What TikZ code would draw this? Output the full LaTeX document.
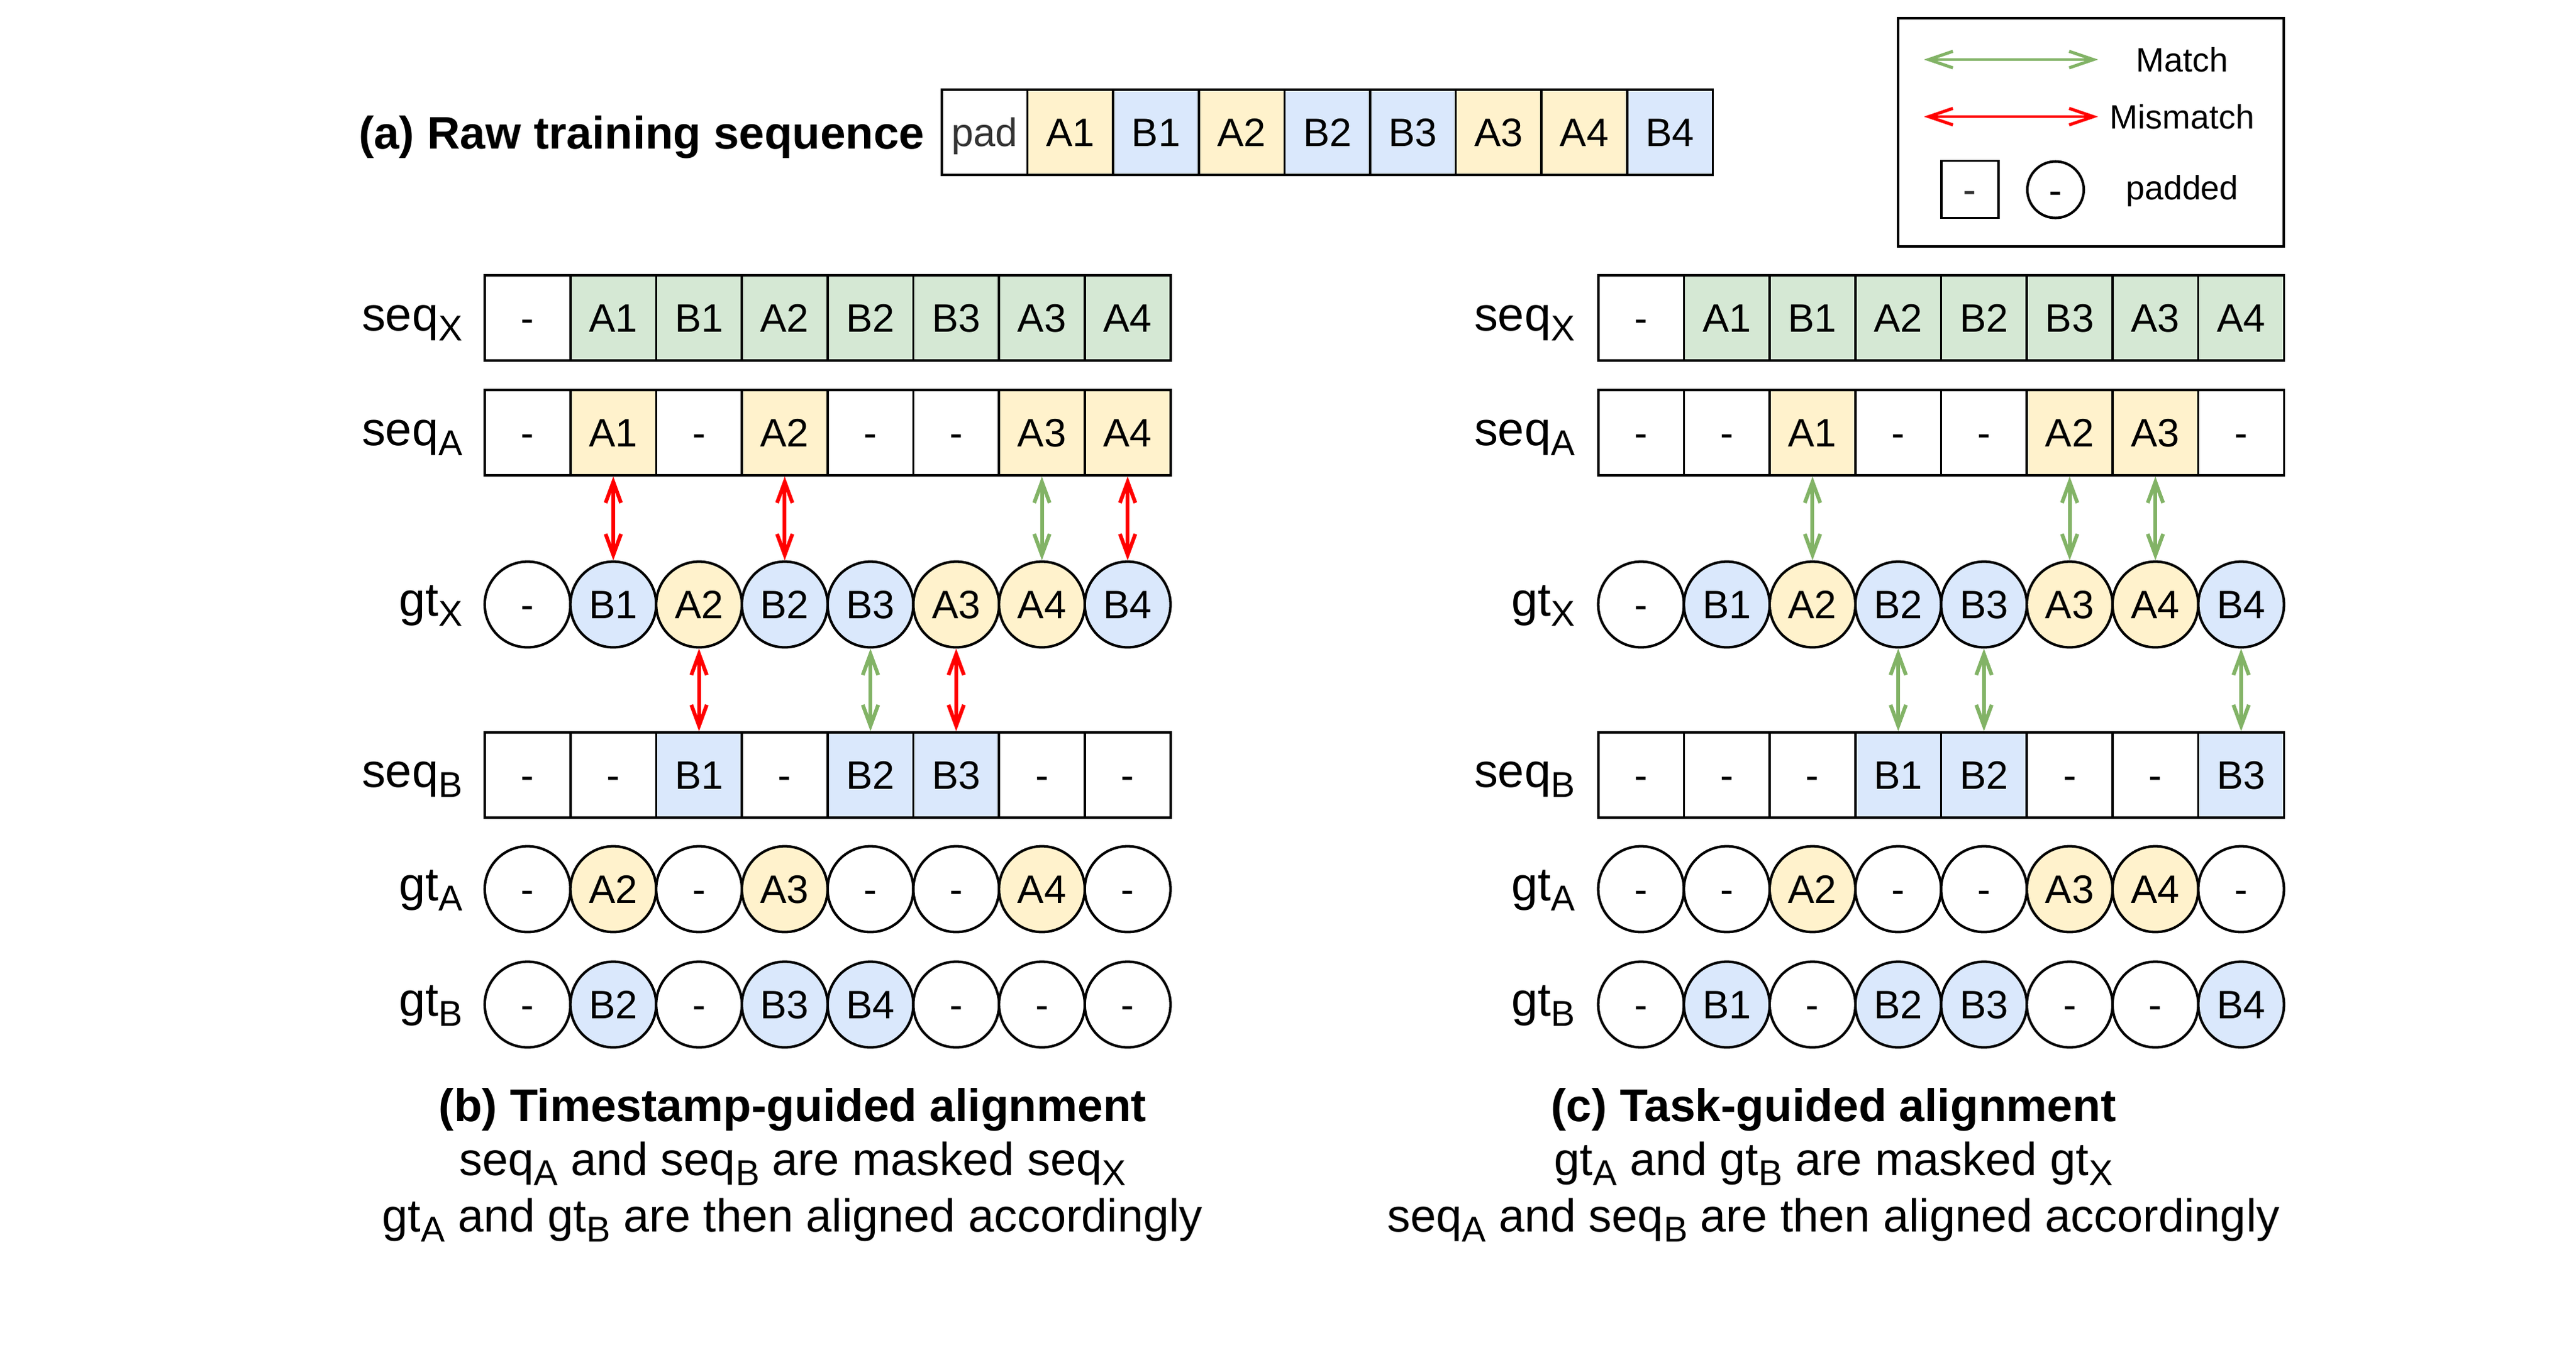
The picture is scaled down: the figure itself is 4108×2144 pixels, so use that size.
\documentclass[tikz,border=0pt]{standalone}
\usepackage{fontspec}
\setmainfont{Liberation Sans}
\usepackage{xcolor}
\usetikzlibrary{arrows.meta,positioning}

\definecolor{tokA}{HTML}{FFF2CC}
\definecolor{tokB}{HTML}{DAE8FC}
\definecolor{tokX}{HTML}{D5E8D4}
\definecolor{okgreen}{HTML}{82B366}
\definecolor{badred}{HTML}{FF0000}
\definecolor{padgray}{HTML}{333333}
\newcommand{\lsub}[1]{\raisebox{-4.8pt}{\fontsize{16.3}{16}\selectfont #1}}

\tikzset{%
	cell/.style     = {draw, rectangle, line width=1.05pt, minimum width=1.367cm, minimum height=1.36cm, inner sep=0pt, text height=12.9pt, text depth=0pt, font=\fontsize{18}{21}\selectfont}, % Box token
	tok/.style      = {draw, circle, line width=1.15pt, minimum size=1.367cm, inner sep=0pt, text height=12.9pt, text depth=0pt, font=\fontsize{18}{21}\selectfont}, % Circle token
	rowlabel/.style = {anchor=base east, inner sep=0pt, font=\fontsize{21.5}{25}\selectfont}, % Row name
	captext/.style  = {anchor=base, inner sep=0pt, font=\fontsize{21}{25}\selectfont}, % Caption line
	legtext/.style  = {inner sep=0pt, font=\fontsize{15.3}{18}\selectfont}, % Legend
}
\tikzset{%
	match/.style    = {draw=okgreen, line width=1.7pt, {Straight Barb[length=9.5pt,width=7pt]}-{Straight Barb[length=9.5pt,width=7pt]}},
	mismatch/.style = {match, draw=badred},
}

\begin{document}
\begin{tikzpicture}[x=0.01cm, y=-0.01cm]
	\useasboundingbox (0,0) rectangle (4108,2144);

	% (a) raw sequence
	\node[rowlabel, font=\bfseries\fontsize{20.7}{25}\selectfont] (ta) at (1475,237) {(a) Raw training sequence};
	\foreach \col/\txt [count=\i] in {white/{\textcolor{padgray}{pad}}, tokA/A1, tokB/B1, tokA/A2, tokB/B2, tokB/B3, tokA/A3, tokA/A4, tokB/B4}
		\node[cell, fill=\col, minimum width=1.366cm] (raw\i) at ({1433.7+136.6*\i},211) {\txt};

	% legend
	\node[draw, line width=1pt, minimum width=6.15cm, minimum height=3.64cm, inner sep=0pt] (legend) at (3334.5,211) {};
	\coordinate (mL) at (3068,95);
	\coordinate (mR) at (3346,95);
	\coordinate (xL) at (3068,186);
	\coordinate (xR) at (3346,186);
	\draw[match, line width=1.4pt, {Straight Barb[length=11pt,width=7.5pt]}-{Straight Barb[length=11pt,width=7.5pt]}] (mL) -- (mR);
	\draw[mismatch, line width=1.4pt, {Straight Barb[length=11pt,width=7.5pt]}-{Straight Barb[length=11pt,width=7.5pt]}] (xL) -- (xR);
	\node[legtext] (lmatch) at (3480,95) {Match};
	\node[legtext] (lmis) at (3480,186) {Mismatch};
	\node[cell, minimum width=0.91cm, minimum height=0.91cm] (lsq) at (3141.5,302) {\textcolor{padgray}{-}};
	\node[tok, minimum size=0.9cm] (lci) at (3278,302.5) {-};
	\node[legtext] (lpad) at (3480,305) {padded};

	% rows shared by (b) and (c)
	\foreach \p/\xo/\lx in {b/704.65/738, c/2480.35/2512} {
		\node[rowlabel] (\p lsx) at (\lx,527) {seq\lsub{X}};
		\node[rowlabel] (\p lsa) at (\lx,710) {seq\lsub{A}};
		\node[rowlabel] (\p lgx) at (\lx,982) {gt\lsub{X}};
		\node[rowlabel] (\p lsb) at (\lx,1255) {seq\lsub{B}};
		\node[rowlabel] (\p lga) at (\lx,1436) {gt\lsub{A}};
		\node[rowlabel] (\p lgb) at (\lx,1620) {gt\lsub{B}};
		\foreach \col/\txt [count=\i] in {white/-, tokX/A1, tokX/B1, tokX/A2, tokX/B2, tokX/B3, tokX/A3, tokX/A4}
			\node[cell, fill=\col] (\p sx\i) at ({\xo+136.7*\i},507) {\txt};
		\foreach \col/\txt [count=\i] in {white/-, tokB/B1, tokA/A2, tokB/B2, tokB/B3, tokA/A3, tokA/A4, tokB/B4}
			\node[tok, fill=\col] (\p gx\i) at ({\xo+136.7*\i},964) {\txt};
	}

	% (b) timestamp-guided
	\foreach \col/\txt [count=\i] in {white/-, tokA/A1, white/-, tokA/A2, white/-, white/-, tokA/A3, tokA/A4}
		\node[cell, fill=\col] (bsa\i) at ({704.65+136.7*\i},690) {\txt};
	\foreach \col/\txt [count=\i] in {white/-, white/-, tokB/B1, white/-, tokB/B2, tokB/B3, white/-, white/-}
		\node[cell, fill=\col] (bsb\i) at ({704.65+136.7*\i},1236) {\txt};
	\foreach \col/\txt [count=\i] in {white/-, tokA/A2, white/-, tokA/A3, white/-, white/-, tokA/A4, white/-}
		\node[tok, fill=\col] (bga\i) at ({704.65+136.7*\i},1418) {\txt};
	\foreach \col/\txt [count=\i] in {white/-, tokB/B2, white/-, tokB/B3, tokB/B4, white/-, white/-, white/-}
		\node[tok, fill=\col] (bgb\i) at ({704.65+136.7*\i},1602) {\txt};

	\draw[mismatch] (bsa2.south) -- (bgx2.north);
	\draw[mismatch] (bsa4.south) -- (bgx4.north);
	\draw[match] (bsa7.south) -- (bgx7.north);
	\draw[mismatch] (bsa8.south) -- (bgx8.north);
	\draw[mismatch] (bgx3.south) -- (bsb3.north);
	\draw[match] (bgx5.south) -- (bsb5.north);
	\draw[mismatch] (bgx6.south) -- (bsb6.north);

	\node[captext, font=\bfseries\fontsize{20.8}{25}\selectfont] (capb1) at (1264,1788) {(b) Timestamp-guided alignment};
	\node[captext] (capb2) at (1264,1874) {seq\lsub{A} and seq\lsub{B} are masked seq\lsub{X}};
	\node[captext] (capb3) at (1264,1964) {gt\lsub{A} and gt\lsub{B} are then aligned accordingly};

	% (c) task-guided
	\foreach \col/\txt [count=\i] in {white/-, white/-, tokA/A1, white/-, white/-, tokA/A2, tokA/A3, white/-}
		\node[cell, fill=\col] (csa\i) at ({2480.35+136.7*\i},690) {\txt};
	\foreach \col/\txt [count=\i] in {white/-, white/-, white/-, tokB/B1, tokB/B2, white/-, white/-, tokB/B3}
		\node[cell, fill=\col] (csb\i) at ({2480.35+136.7*\i},1236) {\txt};
	\foreach \col/\txt [count=\i] in {white/-, white/-, tokA/A2, white/-, white/-, tokA/A3, tokA/A4, white/-}
		\node[tok, fill=\col] (cga\i) at ({2480.35+136.7*\i},1418) {\txt};
	\foreach \col/\txt [count=\i] in {white/-, tokB/B1, white/-, tokB/B2, tokB/B3, white/-, white/-, tokB/B4}
		\node[tok, fill=\col] (cgb\i) at ({2480.35+136.7*\i},1602) {\txt};

	\draw[match] (csa3.south) -- (cgx3.north);
	\draw[match] (csa6.south) -- (cgx6.north);
	\draw[match] (csa7.south) -- (cgx7.north);
	\draw[match] (cgx4.south) -- (csb4.north);
	\draw[match] (cgx5.south) -- (csb5.north);
	\draw[match] (cgx8.south) -- (csb8.north);

	\node[captext, font=\bfseries\fontsize{20.8}{25}\selectfont] (capc1) at (2924,1788) {(c) Task-guided alignment};
	\node[captext] (capc2) at (2924,1874) {gt\lsub{A} and gt\lsub{B} are masked gt\lsub{X}};
	\node[captext] (capc3) at (2924,1964) {seq\lsub{A} and seq\lsub{B} are then aligned accordingly};
\end{tikzpicture}
\end{document}
